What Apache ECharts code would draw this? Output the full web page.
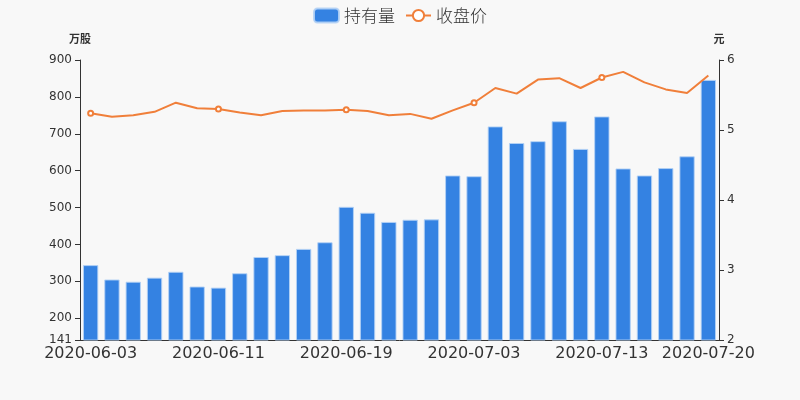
<!DOCTYPE html>
<html>
<head>
<meta charset="utf-8">
<script src="https://cdn.jsdelivr.net/npm/echarts@6/dist/echarts.min.js"></script>
<style>
  html, body { margin: 0; padding: 0; background: #f8f8f8; }
  #chart { width: 800px; height: 400px; }
</style>
</head>
<body>
<div id="chart"></div>
<script>
// Trading days
const dates = [
  '2020-06-03', '2020-06-04', '2020-06-05', '2020-06-08', '2020-06-09', '2020-06-10',
  '2020-06-11', '2020-06-12', '2020-06-15', '2020-06-16', '2020-06-17', '2020-06-18',
  '2020-06-19', '2020-06-22', '2020-06-23', '2020-06-24', '2020-06-30', '2020-07-02',
  '2020-07-03', '2020-07-06', '2020-07-07', '2020-07-08', '2020-07-09', '2020-07-10',
  '2020-07-13', '2020-07-14', '2020-07-15', '2020-07-16', '2020-07-17', '2020-07-20'
];

// Holdings (万股)
const holdings = [
  344, 305, 299, 310, 326, 286, 283, 322, 366, 371, 388, 406,
  502, 486, 461, 467, 468, 587, 585, 720, 675, 680, 734, 659,
  747, 606, 587, 607, 639, 846
];

// Closing price (元)
const closePrice = [
  5.24, 5.19, 5.21, 5.26, 5.39, 5.31, 5.30, 5.25, 5.21, 5.27, 5.28, 5.28,
  5.29, 5.27, 5.21, 5.23, 5.16, 5.28, 5.39, 5.60, 5.52, 5.72, 5.74, 5.60,
  5.75, 5.83, 5.68, 5.58, 5.53, 5.78
];

// Tick labels on the value axes
const leftTicks = [141, 200, 300, 400, 500, 600, 700, 800, 900];
const rightTicks = [2, 3, 4, 5, 6];

// Category indices that get a date label
const labelStep = 6;
const showLabel = (i) => i % labelStep === 0 || i === dates.length - 1;
const showMarker = (i) => i % labelStep === 0;

const priceData = closePrice.map((v, i) => ({
  value: v,
  symbol: showMarker(i) ? 'emptyCircle' : 'none'
}));

const axisNameStyle = {
  fontSize: 11, fontWeight: 'bold', color: '#333',
  fontFamily: '"Noto Sans CJK SC", sans-serif'
};

const chart = echarts.init(document.getElementById('chart'));
chart.setOption({
  backgroundColor: '#f8f8f8',
  animation: false,
  textStyle: { fontFamily: 'DejaVu Sans, "Noto Sans CJK SC", sans-serif' },
  legend: {
    top: 2,
    left: 'center',
    itemGap: 10,
    textStyle: { fontSize: 17, color: '#333', fontFamily: '"Noto Sans CJK SC", sans-serif', fontWeight: 300 },
    data: ['持有量', '收盘价']
  },
  grid: { left: 80, right: 81, top: 60, bottom: 60, containLabel: false },
  xAxis: {
    type: 'category',
    data: dates,
    boundaryGap: true,
    axisLine: { lineStyle: { color: '#333' } },
    axisTick: { interval: labelStep - 1, length: 5, lineStyle: { color: '#333' } },
    axisLabel: {
      interval: (i) => showLabel(i),
      fontSize: 16,
      color: '#333',
      margin: 6
    }
  },
  yAxis: [
    {
      type: 'value',
      name: '万股',
      nameLocation: 'end',
      nameGap: 16,
      nameTextStyle: axisNameStyle,
      min: leftTicks[0],
      max: leftTicks[leftTicks.length - 1],
      splitLine: { show: false },
      axisLine: { show: true, lineStyle: { color: '#333' } },
      axisTick: { show: true, length: 5, customValues: leftTicks, lineStyle: { color: '#333' } },
      axisLabel: { fontSize: 12, color: '#333', margin: 8, customValues: leftTicks }
    },
    {
      type: 'value',
      name: '元',
      nameLocation: 'end',
      nameGap: 16,
      nameTextStyle: axisNameStyle,
      min: rightTicks[0],
      max: rightTicks[rightTicks.length - 1],
      interval: 1,
      splitLine: { show: false },
      axisLine: { show: true, lineStyle: { color: '#333' } },
      axisTick: { show: true, length: 5, customValues: rightTicks, lineStyle: { color: '#333' } },
      axisLabel: { fontSize: 12, color: '#333', margin: 8, customValues: rightTicks }
    }
  ],
  series: [
    {
      name: '收盘价',
      type: 'line',
      yAxisIndex: 1,
      z: 3,
      data: priceData,
      showAllSymbol: true,
      symbolSize: 5,
      lineStyle: { color: '#f07f3a', width: 2 },
      itemStyle: { color: '#f07f3a', borderWidth: 1 }
    },
    {
      name: '持有量',
      type: 'bar',
      yAxisIndex: 0,
      z: 2,
      barWidth: '72%',
      data: holdings,
      itemStyle: {
        color: '#3482e2',
        borderColor: 'rgba(180, 210, 245, 0.9)',
        borderWidth: 1
      }
    }
  ]
});
</script>
</body>
</html>
